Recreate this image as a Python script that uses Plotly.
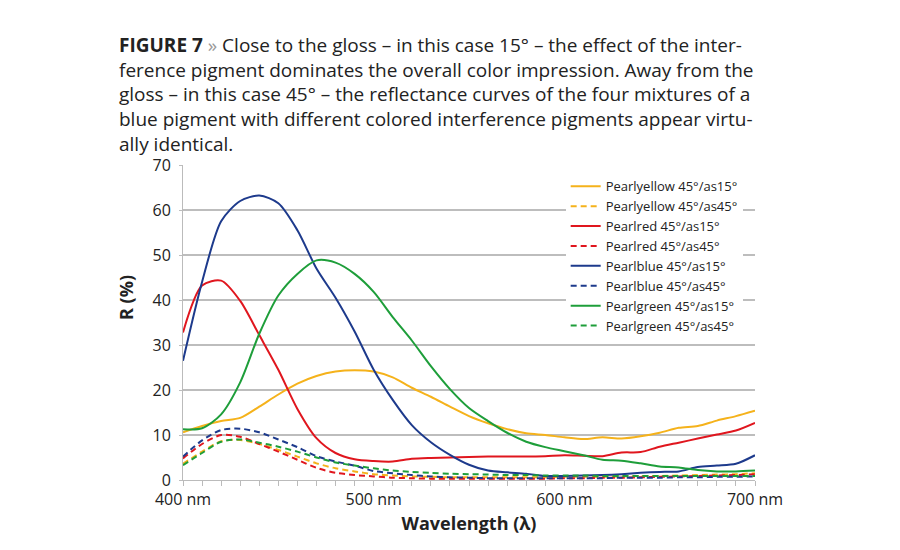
import plotly.graph_objects as go

# longueurs d'onde (nm)
wavelength = list(range(400, 701, 10))

# R (%) - angle 45°/as15°
yellow_15 = [10.6, 12.0, 13.1, 13.8, 16.3, 19.0, 21.4, 23.1, 24.1, 24.4, 24.1, 22.8, 20.5, 18.5, 16.3, 14.2,
             12.6, 11.3, 10.4, 10.0, 9.5, 9.1, 9.5, 9.2, 9.7, 10.5, 11.6, 12.0, 13.2, 14.2, 15.4]
red_15 = [32.8, 43.2, 44.3, 39.8, 32.2, 24.5, 15.8, 9.3, 6.0, 4.6, 4.2, 4.1, 4.7, 4.9, 5.0, 5.1,
          5.2, 5.2, 5.2, 5.3, 5.5, 5.4, 5.3, 6.1, 6.2, 7.4, 8.3, 9.2, 10.1, 11.0, 12.7]
blue_15 = [26.5, 44.0, 57.5, 62.0, 63.2, 61.5, 55.5, 47.0, 40.5, 33.0, 24.5, 17.8, 12.2, 8.4, 5.6, 3.4,
           2.1, 1.7, 1.4, 0.9, 0.9, 1.0, 1.1, 1.3, 1.6, 1.8, 1.9, 2.9, 3.2, 3.6, 5.5]
green_15 = [11.3, 11.5, 14.6, 21.7, 32.5, 41.0, 45.8, 48.8, 48.3, 45.8, 41.8, 36.2, 31.0, 25.3, 20.2, 16.0,
            13.1, 10.5, 8.5, 7.3, 6.4, 5.5, 4.5, 4.3, 3.7, 3.0, 2.8, 2.2, 1.9, 1.9, 2.1]

# R (%) - angle 45°/as45°
yellow_45 = [3.6, 6.3, 8.6, 8.9, 8.0, 6.7, 5.2, 3.7, 2.6, 1.9, 1.3, 1.0, 0.8, 0.7, 0.6, 0.6,
             0.6, 0.6, 0.6, 0.6, 0.7, 0.7, 0.7, 0.8, 0.9, 0.9, 1.0, 1.1, 1.2, 1.3, 1.5]
red_45 = [4.8, 8.0, 10.0, 9.6, 8.0, 6.3, 4.5, 2.7, 1.6, 1.1, 0.8, 0.5, 0.4, 0.3, 0.3, 0.3,
          0.3, 0.3, 0.3, 0.3, 0.4, 0.4, 0.5, 0.5, 0.6, 0.7, 0.8, 0.9, 1.0, 1.1, 1.3]
blue_45 = [5.2, 8.8, 11.1, 11.4, 10.6, 9.0, 7.3, 5.3, 4.1, 3.2, 2.0, 1.5, 1.1, 0.8, 0.6, 0.5,
           0.4, 0.4, 0.4, 0.4, 0.4, 0.4, 0.4, 0.5, 0.5, 0.5, 0.6, 0.6, 0.7, 0.7, 0.8]
green_45 = [3.3, 6.0, 8.5, 9.0, 8.3, 7.4, 6.3, 5.0, 3.9, 3.2, 2.6, 2.1, 1.8, 1.6, 1.4, 1.3,
            1.2, 1.1, 1.1, 1.0, 1.0, 1.0, 0.9, 0.9, 0.9, 0.9, 0.9, 0.9, 0.9, 0.9, 0.9]

x_ticks = [400, 500, 600, 700]
x_labels = ["400 nm", "500 nm", "600 nm", "700 nm"]

series = [
    ("Pearlyellow 45°/as15°", yellow_15, "#F5B21B", "solid"),
    ("Pearlyellow 45°/as45°", yellow_45, "#F5B21B", "6px,4px"),
    ("Pearlred 45°/as15°", red_15, "#E0161E", "solid"),
    ("Pearlred 45°/as45°", red_45, "#E0161E", "6px,4px"),
    ("Pearlblue 45°/as15°", blue_15, "#1D3A8C", "solid"),
    ("Pearlblue 45°/as45°", blue_45, "#1D3A8C", "6px,4px"),
    ("Pearlgreen 45°/as15°", green_15, "#1E9E3A", "solid"),
    ("Pearlgreen 45°/as45°", green_45, "#1E9E3A", "6px,4px"),
]

fig = go.Figure()
for name, vals, col, dash in series:
    fig.add_trace(go.Scatter(x=wavelength, y=vals, name=name, mode="lines",
                             line=dict(color=col, width=2, dash=dash, shape="spline", smoothing=0.8)))

title = ("<b>FIGURE 7</b> <span style='color:#999999'>»</span> Close to the gloss – in this case 15° – the effect of the inter-<br>"
         "ference pigment dominates the overall color impression. Away from the<br>"
         "gloss – in this case 45° – the reflectance curves of the four mixtures of a<br>"
         "blue pigment with different colored interference pigments appear virtu-<br>"
         "ally identical.")

fig.add_annotation(text=title, xref="paper", yref="paper", x=-0.1154, y=1.428,
                   xanchor="left", yanchor="top", align="left", showarrow=False,
                   font=dict(family="Open Sans", size=19, color="#222222"))

# titre de l'axe y (placé à la main comme dans l'original)
fig.add_annotation(text="<b>R (%)</b>", xref="paper", yref="paper", x=-0.0997, y=0.581,
                   xanchor="center", yanchor="middle", textangle=-90, showarrow=False,
                   font=dict(family="Open Sans", size=18, color="#222222"))

fig.update_layout(
    width=900, height=550,
    margin=dict(l=175, r=153, t=157, b=78),
    paper_bgcolor="white", plot_bgcolor="white",
    font=dict(family="Open Sans", color="#222222"),
    showlegend=True,
    legend=dict(x=0.669, y=0.98, xanchor="left", yanchor="top", bgcolor="white",
                font=dict(size=13, color="#222222"), tracegroupgap=0, itemwidth=30),
    xaxis=dict(range=[400, 700], tickvals=x_ticks, ticktext=x_labels,
               showgrid=False, showline=True, linecolor="#BBBBBB", linewidth=1,
               ticks="outside", ticklen=5, tickcolor="#BBBBBB",
               minor=dict(dtick=10, ticks="outside", ticklen=5, tickcolor="#BBBBBB"),
               tickfont=dict(size=16),
               title=dict(text="<b>Wavelength (λ)</b>", font=dict(size=18), standoff=8),
               zeroline=False),
    yaxis=dict(range=[0, 70], dtick=10, showgrid=True, gridcolor="#BDBDBD", gridwidth=1.5,
               showline=True, linecolor="#BBBBBB", linewidth=1,
               ticks="outside", ticklen=3, tickcolor="#BDBDBD",
               ticklabelstandoff=5, tickfont=dict(size=16),
               zeroline=False),
)

fig.write_html("out.html")
